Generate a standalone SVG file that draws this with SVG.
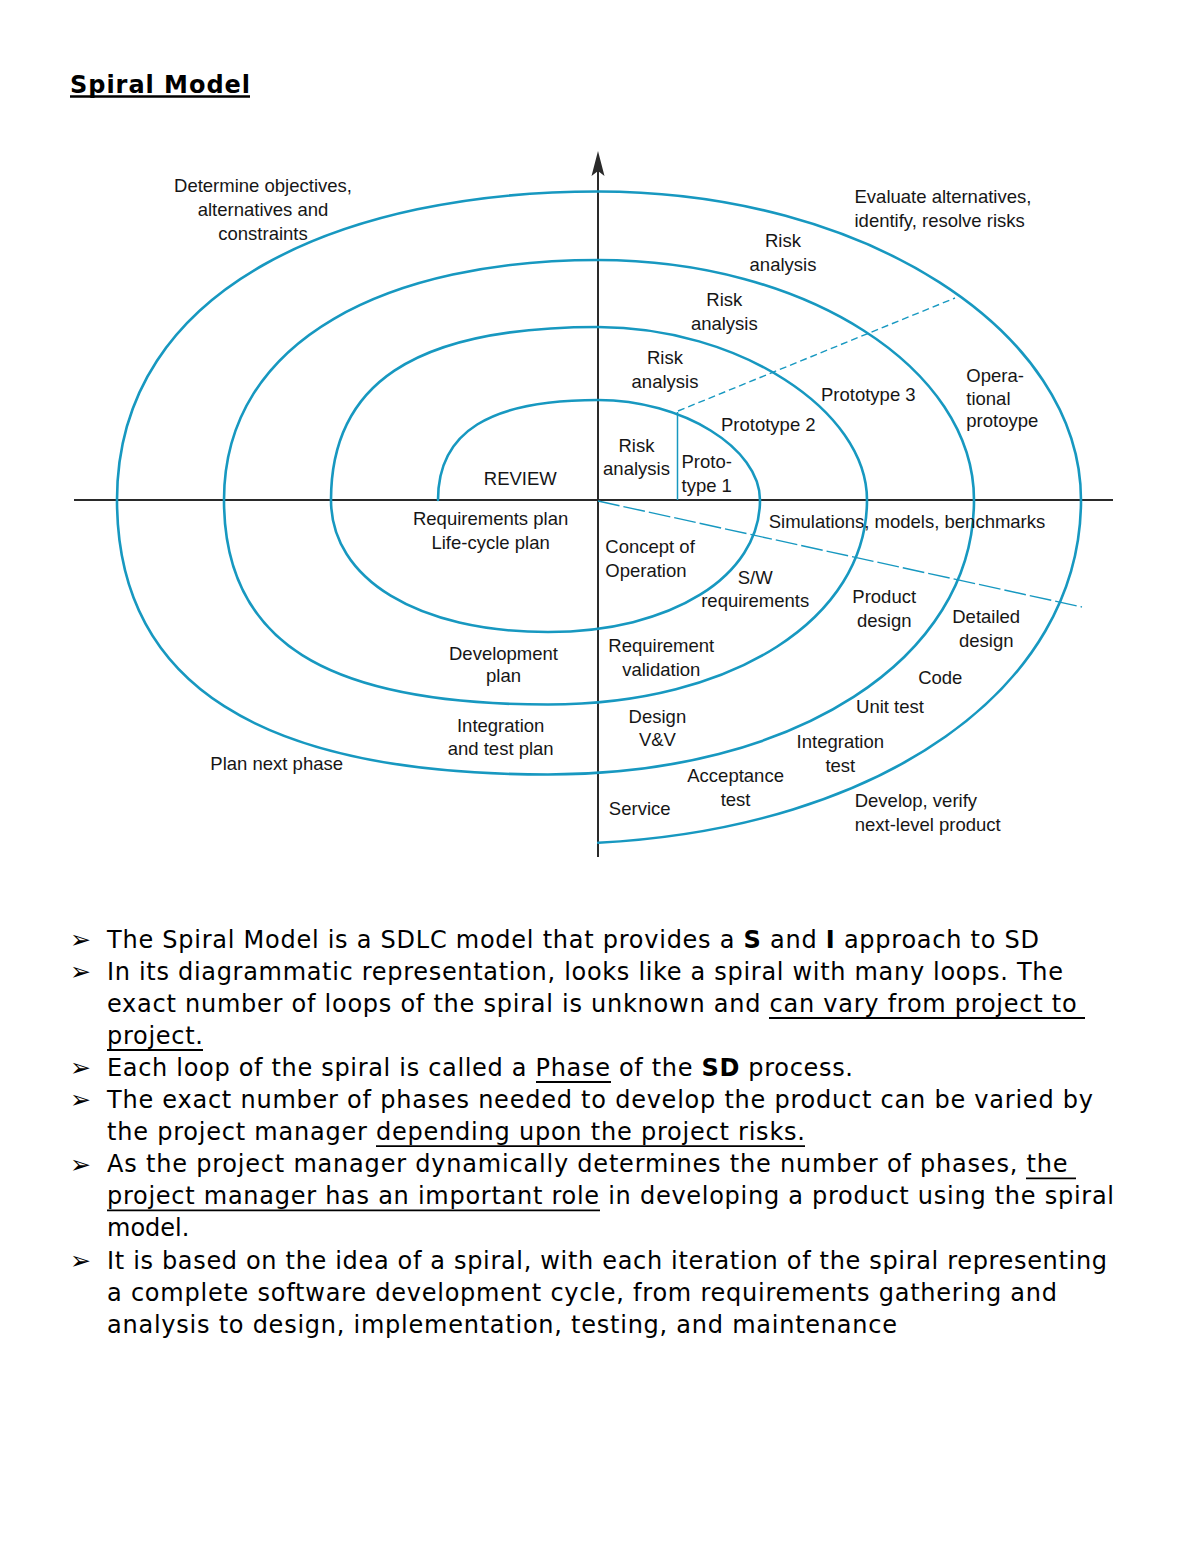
<svg xmlns="http://www.w3.org/2000/svg" width="1200" height="1553" viewBox="0 0 1200 1553">
<style>
.sp{fill:none;stroke:#1798c0;stroke-width:2.6;stroke-linecap:round}
.gd{fill:none;stroke:#1798c0;stroke-width:1.4;stroke-dasharray:7 4}
.gd2{fill:none;stroke:#1798c0;stroke-width:1.4;stroke-dasharray:22 4}
.tl{fill:none;stroke:#1798c0;stroke-width:1.5}
.ax{fill:none;stroke:#2a2a2a;stroke-width:2}
.lb{font-family:"Liberation Sans",Arial,sans-serif;font-size:18.5px;fill:#161616}
.c{text-anchor:middle}
.body{font-family:"DejaVu Sans",sans-serif;font-size:24px;fill:#000;white-space:pre}
.bul{font-family:"DejaVu Sans",sans-serif;font-size:25px;fill:#000}
.b{font-weight:bold}
.ul{stroke:#000;stroke-width:1.8}
</style>
<rect width="1200" height="1553" fill="#fff"/>

<g id="title">
<text x="70" y="93" class="body b" textLength="180" lengthAdjust="spacing">Spiral Model</text>
<line x1="70" y1="96.5" x2="250" y2="96.5" stroke="#000" stroke-width="2.4"/>
</g>

<g id="connectors">
<line class="ax" x1="74" y1="500" x2="1113" y2="500"/>
<line class="ax" x1="598" y1="170" x2="598" y2="857"/>
<polygon points="598,151 604.5,176 598,171 591.5,176" fill="#2a2a2a"/>
<path id="spiral" class="sp" d="M438,500 C438,432 489.2,400 598,400 C682.2,400 760,448 760,500 C760,576.6 671,632 548,632 C417.8,632 331,579.2 331,500 C331,385.8 411.1,327 598,327 C737.9,327 867,410 867,500 C867,618.6 733,704.5 548,704.5 C324.4,704.5 224,641.1 224,500 C224,336.8 392.3,260 598,260 C804.8,260 974,368 974,500 C974,659.2 795.1,774.5 548,774.5 C259.2,774.5 117,683.9 117,500 C117,284 347.9,191.5 598,191.5 C863.7,191.5 1081,330.3 1081,500 C1081,688.5 881,828 598.2,842.7"/>
<line class="tl" x1="677.5" y1="412" x2="677.5" y2="500"/>
<line class="gd" x1="678" y1="411" x2="955" y2="298"/>
<line class="gd2" x1="598" y1="501" x2="1082" y2="607"/>
</g>

<g id="q-determine"><text class="lb c"><tspan x="263" y="191.7">Determine objectives,</tspan><tspan x="263" y="216">alternatives and</tspan><tspan x="263" y="240">constraints</tspan></text></g>
<g id="q-evaluate"><text class="lb"><tspan x="854.5" y="203">Evaluate alternatives,</tspan><tspan x="854.5" y="226.5">identify, resolve risks</tspan></text></g>
<g id="risk-4"><text class="lb c"><tspan x="783" y="246.7">Risk</tspan><tspan x="783" y="270.5">analysis</tspan></text></g>
<g id="risk-3"><text class="lb c"><tspan x="724.3" y="306">Risk</tspan><tspan x="724.3" y="329.8">analysis</tspan></text></g>
<g id="risk-2"><text class="lb c"><tspan x="665" y="364.3">Risk</tspan><tspan x="665" y="388.3">analysis</tspan></text></g>
<g id="risk-1"><text class="lb c"><tspan x="636.5" y="451.5">Risk</tspan><tspan x="636.5" y="475">analysis</tspan></text></g>
<g id="proto-1"><text class="lb"><tspan x="681.5" y="468.3">Proto-</tspan><tspan x="681.5" y="491.7">type 1</tspan></text></g>
<g id="proto-2"><text class="lb" x="721" y="430.7">Prototype 2</text></g>
<g id="proto-3"><text class="lb" x="821" y="400.7">Prototype 3</text></g>
<g id="op-proto"><text class="lb"><tspan x="966.3" y="381.7">Opera-</tspan><tspan x="966.3" y="405">tional</tspan><tspan x="966.3" y="427">protoype</tspan></text></g>
<g id="review"><text class="lb c" x="520.3" y="485">REVIEW</text></g>
<g id="req-plan"><text class="lb c"><tspan x="490.6" y="525">Requirements plan</tspan><tspan x="490.6" y="548.5">Life-cycle plan</tspan></text></g>
<g id="dev-plan"><text class="lb c"><tspan x="503.5" y="660">Development</tspan><tspan x="503.5" y="682">plan</tspan></text></g>
<g id="int-plan"><text class="lb c"><tspan x="500.7" y="732.3">Integration</tspan><tspan x="500.7" y="754.5">and test plan</tspan></text></g>
<g id="plan-next"><text class="lb c" x="276.7" y="770">Plan next phase</text></g>
<g id="sim"><text class="lb" x="768.7" y="527.7">Simulations, models, benchmarks</text></g>
<g id="concept"><text class="lb"><tspan x="605.3" y="553.3">Concept of</tspan><tspan x="605.3" y="576.7">Operation</tspan></text></g>
<g id="sw-req"><text class="lb c"><tspan x="755.2" y="584.3">S/W</tspan><tspan x="755.2" y="606.7">requirements</tspan></text></g>
<g id="prod-design"><text class="lb c"><tspan x="884.2" y="603.3">Product</tspan><tspan x="884.2" y="626.7">design</tspan></text></g>
<g id="det-design"><text class="lb c"><tspan x="986.2" y="623.3">Detailed</tspan><tspan x="986.2" y="646.7">design</tspan></text></g>
<g id="code"><text class="lb c" x="940.3" y="684.3">Code</text></g>
<g id="unit-test"><text class="lb c" x="890" y="713.3">Unit test</text></g>
<g id="req-val"><text class="lb c"><tspan x="661.3" y="651.7">Requirement</tspan><tspan x="661.3" y="675.7">validation</tspan></text></g>
<g id="design-vv"><text class="lb c"><tspan x="657.4" y="722.7">Design</tspan><tspan x="657.4" y="745.7">V&amp;V</tspan></text></g>
<g id="int-test"><text class="lb c"><tspan x="840.3" y="748.3">Integration</tspan><tspan x="840.3" y="772.3">test</tspan></text></g>
<g id="acc-test"><text class="lb c"><tspan x="735.6" y="781.7">Acceptance</tspan><tspan x="735.6" y="805.7">test</tspan></text></g>
<g id="service"><text class="lb c" x="639.7" y="815">Service</text></g>
<g id="develop"><text class="lb"><tspan x="854.7" y="806.7">Develop, verify</tspan><tspan x="854.7" y="831">next-level product</tspan></text></g>

<g id="notes">
<text class="bul" x="70" y="948">➢</text>
<text class="body" x="107" y="947.5" textLength="932" lengthAdjust="spacing">The Spiral Model is a SDLC model that provides a <tspan class="b">S</tspan> and <tspan class="b">I</tspan> approach to SD</text>
<text class="bul" x="70" y="980">➢</text>
<text class="body" x="107" y="979.6" textLength="956" lengthAdjust="spacing">In its diagrammatic representation, looks like a spiral with many loops. The</text>
<text class="body" x="107" y="1011.7" textLength="978" lengthAdjust="spacing">exact number of loops of the spiral is unknown and can vary from project to </text>
<line class="ul" x1="769" y1="1018" x2="1085" y2="1018"/>
<text class="body" x="107" y="1043.8" textLength="96" lengthAdjust="spacing">project.</text>
<line class="ul" x1="107" y1="1050" x2="203" y2="1050"/>
<text class="bul" x="70" y="1076.3">➢</text>
<text class="body" x="107" y="1075.9" textLength="746" lengthAdjust="spacing">Each loop of the spiral is called a Phase of the <tspan class="b">SD</tspan> process.</text>
<line class="ul" x1="536" y1="1082" x2="611" y2="1082"/>
<text class="bul" x="70" y="1108.4">➢</text>
<text class="body" x="107" y="1108" textLength="986" lengthAdjust="spacing">The exact number of phases needed to develop the product can be varied by</text>
<text class="body" x="107" y="1140.1" textLength="698" lengthAdjust="spacing">the project manager depending upon the project risks.</text>
<line class="ul" x1="376" y1="1146.2" x2="805" y2="1146.2"/>
<text class="bul" x="70" y="1172.6">➢</text>
<text class="body" x="107" y="1172.2" textLength="969" lengthAdjust="spacing">As the project manager dynamically determines the number of phases, the </text>
<line class="ul" x1="1026" y1="1178.3" x2="1076" y2="1178.3"/>
<text class="body" x="107" y="1204.3" textLength="1007" lengthAdjust="spacing">project manager has an important role in developing a product using the spiral</text>
<line class="ul" x1="107" y1="1210.4" x2="600" y2="1210.4"/>
<text class="body" x="107" y="1236.4">model.</text>
<text class="bul" x="70" y="1268.9">➢</text>
<text class="body" x="107" y="1268.5" textLength="1000" lengthAdjust="spacing">It is based on the idea of a spiral, with each iteration of the spiral representing</text>
<text class="body" x="107" y="1300.6" textLength="950" lengthAdjust="spacing">a complete software development cycle, from requirements gathering and</text>
<text class="body" x="107" y="1332.7" textLength="790" lengthAdjust="spacing">analysis to design, implementation, testing, and maintenance</text>
</g>
</svg>
